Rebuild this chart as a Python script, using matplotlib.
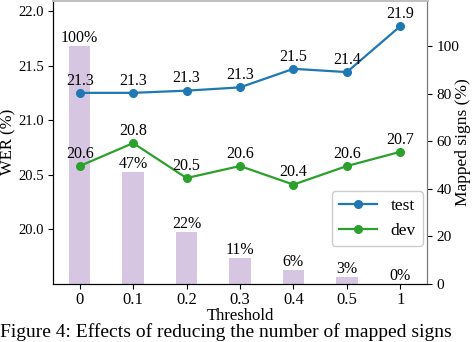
import matplotlib
matplotlib.use("Agg")
import matplotlib.pyplot as plt
import numpy as np

plt.rcParams['font.family'] = ['Liberation Serif', 'DejaVu Serif']
plt.rcParams['mathtext.fontset'] = 'stix'

thresholds = ["0", "0.1", "0.2", "0.3", "0.4", "0.5", "1"]
mapped = [100, 47, 22, 11, 6, 3, 0]
mapped_labels = ["100%", "47%", "22%", "11%", "6%", "3%", "0%"]
test_wer = [21.25, 21.25, 21.27, 21.30, 21.47, 21.44, 21.86]
test_labels = ["21.3", "21.3", "21.3", "21.3", "21.5", "21.4", "21.9"]
dev_wer = [20.58, 20.79, 20.47, 20.58, 20.41, 20.58, 20.71]
dev_labels = ["20.6", "20.8", "20.5", "20.6", "20.4", "20.6", "20.7"]

fig = plt.figure(figsize=(4.74, 3.42), dpi=100)
ax = fig.add_axes([53/474, 1-284/342, (427-53)/474, 284/342])
ax2 = ax.twinx()
ax.set_zorder(ax2.get_zorder() + 1)
ax.patch.set_visible(False)

x = np.arange(len(thresholds))
ax2.bar(x, mapped, width=0.4, color='#d6c6e1', zorder=1)
for xi, h, lab in zip(x, mapped, mapped_labels):
    ax2.annotate(lab, (xi, h), xytext=(0, 0), textcoords='offset points',
                 ha='center', va='bottom', fontsize=11.5)
ax2.set_ylim(0, 119.5)
ax2.set_yticks([0, 20, 40, 60, 80, 100])
ax2.set_ylabel("Mapped signs (%)", fontsize=12.5)
ax2.yaxis.set_label_coords(1.075, 0.5)

ax.plot(x, test_wer, color='#1f77b4', marker='o', lw=1.6, ms=5.5, label='test')
ax.plot(x, dev_wer, color='#2ca02c', marker='o', lw=1.6, ms=5.5, label='dev')
for xi, v, lab in zip(x, test_wer, test_labels):
    ax.annotate(lab, (xi, v), xytext=(0, 3), textcoords='offset points',
                ha='center', va='bottom', fontsize=11.5)
for xi, v, lab in zip(x, dev_wer, dev_labels):
    ax.annotate(lab, (xi, v), xytext=(0, 3), textcoords='offset points',
                ha='center', va='bottom', fontsize=11.5)
ax.set_ylim(19.5, 22.1)
ax.set_yticks([20.0, 20.5, 21.0, 21.5, 22.0])
ax.set_yticklabels(["20.0", "20.5", "21.0", "21.5", "22.0"])
ax.set_xlim(-0.5, 6.5)
ax.set_xticks(x)
ax.set_xticklabels(thresholds)
ax.set_ylabel("WER (%)", fontsize=12)
ax.yaxis.set_label_coords(-0.097, 0.5)
ax.set_xlabel("Threshold", fontsize=12, labelpad=0)
ax.tick_params(axis='x', labelsize=12, pad=2)
ax.tick_params(axis='y', labelsize=10.5, pad=3)
ax2.tick_params(axis='y', labelsize=11)

for a in (ax, ax2):
    a.spines['top'].set_color('#c0c0c0')
    a.spines['top'].set_linewidth(2)
    a.spines['right'].set_color('#777777')

ax.legend(loc='lower right', fontsize=12.5, bbox_to_anchor=(0.989, 0.134),
          borderaxespad=0, handlelength=2.2, framealpha=1)

fig.text(0.0, 5/342, "Figure 4: Effects of reducing the number of mapped signs",
         fontsize=14, ha='left', va='baseline')

fig.savefig("out.png", dpi=100)
